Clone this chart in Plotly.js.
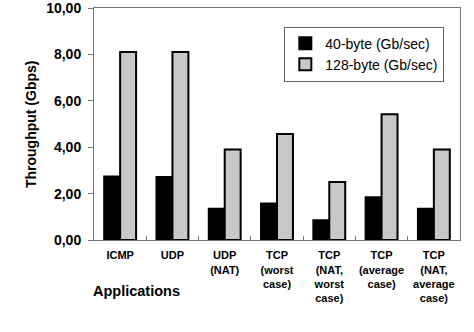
<!DOCTYPE html>
<html>
<head>
<meta charset="utf-8">
<script src="https://cdn.plot.ly/plotly-3.0.1.min.js"></script>
<style>html,body{margin:0;padding:0;background:#fff;}#chart{width:474px;height:332px;}</style>
</head>
<body>
<div id="chart"></div>
<script>
const categories = ["ICMP", "UDP", "UDP<br>(NAT)", "TCP<br>(worst<br>case)", "TCP<br>(NAT,<br>worst<br>case)", "TCP<br>(average<br>case)", "TCP<br>(NAT,<br>average<br>case)"];
const bytes40 = [2.74, 2.72, 1.35, 1.57, 0.85, 1.84, 1.35];
const bytes128 = [8.10, 8.10, 3.90, 4.57, 2.50, 5.42, 3.90];
const seriesNames = ["40-byte (Gb/sec)", "128-byte (Gb/sec)"];
const yTicks = [0, 2, 4, 6, 8, 10];

const font = "Liberation Sans, Arial, sans-serif";
const traces = [
  {type: "bar", name: seriesNames[0], x: categories, y: bytes40,
   marker: {color: "#000000", line: {color: "#000000", width: 2}}},
  {type: "bar", name: seriesNames[1], x: categories, y: bytes128,
   marker: {color: "#c8c8c8", line: {color: "#000000", width: 2}}}
];
const layout = {
  width: 474, height: 332,
  margin: {l: 94, r: 14, t: 8, b: 92},
  paper_bgcolor: "#fff", plot_bgcolor: "#fff",
  separators: ",.",
  barmode: "group", bargap: 0.39, bargroupgap: 0,
  font: {family: font, color: "#000"},
  showlegend: true,
  legend: {x: 0.52, xanchor: "left", y: 0.92, yanchor: "top",
           bgcolor: "#fff", bordercolor: "#666", borderwidth: 1,
           font: {family: font, size: 14, color: "#000"},
           tracegroupgap: 0},
  xaxis: {type: "category", showline: true, mirror: true, linecolor: "#777", linewidth: 1,
          ticks: "inside", tickson: "boundaries", ticklen: 4, tickcolor: "#777",
          tickangle: 0, ticklabelstandoff: 5,
          tickfont: {family: font, size: 11, color: "#000", weight: "bold"},
          showgrid: false, zeroline: false, fixedrange: true},
  yaxis: {range: [0, 10], tickvals: yTicks, tickformat: ".2f", ticklabeloverflow: "allow",
          showline: true, mirror: true, linecolor: "#777", linewidth: 1,
          ticks: "outside", ticklen: 5, tickcolor: "#777", ticklabelstandoff: 4,
          tickfont: {family: font, size: 14, color: "#000", weight: "bold"},
          showgrid: false, zeroline: false, fixedrange: true},
  annotations: [
    {text: "Throughput (Gbps)", textangle: -90, xref: "paper", yref: "paper",
     x: -0.172, y: 0.5, xanchor: "center", yanchor: "middle", showarrow: false,
     font: {family: font, size: 14, color: "#000", weight: "bold"}},
    {text: "Applications", xref: "paper", yref: "paper",
     x: -0.008, y: -0.22, xanchor: "left", yanchor: "middle", showarrow: false,
     font: {family: font, size: 14.5, color: "#000", weight: "bold"}}
  ]
};
Plotly.newPlot("chart", traces, layout, {displayModeBar: false, staticPlot: true});
</script>
</body>
</html>
